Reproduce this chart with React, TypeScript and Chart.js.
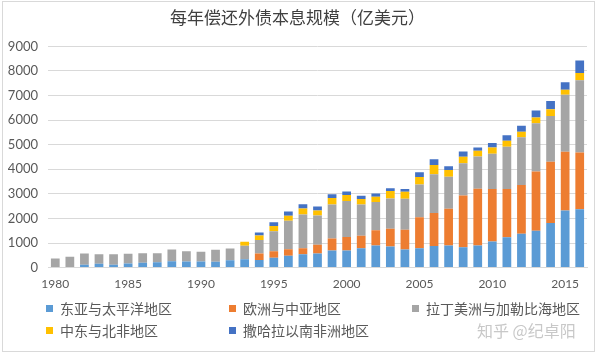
import React, { useEffect, useRef } from "react";
import { Chart, registerables } from "chart.js";

Chart.register(...registerables);

const TITLE = "每年偿还外债本息规模（亿美元）";

const years: string[] = [
  "1980", "1981", "1982", "1983", "1984", "1985", "1986", "1987", "1988", "1989",
  "1990", "1991", "1992", "1993", "1994", "1995", "1996", "1997", "1998", "1999",
  "2000", "2001", "2002", "2003", "2004", "2005", "2006", "2007", "2008", "2009",
  "2010", "2011", "2012", "2013", "2014", "2015", "2016",
];

const seriesNames: string[] = [
  "东亚与太平洋地区",
  "欧洲与中亚地区",
  "拉丁美洲与加勒比海地区",
  "中东与北非地区",
  "撒哈拉以南非洲地区",
];

const seriesColors: string[] = ["#5B9BD5", "#ED7D31", "#A5A5A5", "#FFC000", "#4472C4"];

const eastAsia: number[] = [
  0, 0, 120, 160, 120, 170, 200, 220, 260, 250,
  250, 240, 300, 340, 310, 400, 480, 545, 575, 700,
  700, 790, 900, 860, 740, 790, 875, 900, 830, 900,
  1065, 1230, 1380, 1500, 1815, 2320, 2375,
];

const europeCentralAsia: number[] = [
  0, 0, 0, 0, 0, 0, 0, 0, 0, 0,
  0, 0, 0, 0, 260, 270, 270, 245, 355, 480,
  545, 510, 615, 725, 805, 1255, 1350, 1490, 2105, 2310,
  2130, 1965, 1980, 2405, 2490, 2390, 2310,
];

const latinAmerica: number[] = [
  370, 440, 453, 385, 425, 390, 383, 363, 477, 420,
  390, 485, 480, 550, 550, 805, 1160, 1370, 1190, 1390,
  1460, 1270, 1150, 1230, 1255, 1340, 1570, 1310, 1310, 1310,
  1435, 1720, 1940, 1965, 1860, 2325, 2935,
];

const middleEastNorthAfrica: number[] = [
  0, 0, 0, 0, 0, 0, 0, 0, 0, 0,
  0, 0, 0, 160, 190, 220, 200, 245, 205, 260,
  245, 220, 220, 300, 285, 300, 380, 275, 270, 230,
  260, 245, 230, 235, 275, 205, 300,
];

const subSaharanAfrica: number[] = [
  0, 0, 0, 0, 0, 0, 0, 0, 0, 0,
  0, 0, 0, 0, 120, 150, 170, 175, 165, 150,
  150, 135, 135, 110, 110, 190, 235, 150, 205, 140,
  180, 230, 245, 285, 340, 300, 505,
];

const seriesValues: number[][] = [
  eastAsia,
  europeCentralAsia,
  latinAmerica,
  middleEastNorthAfrica,
  subSaharanAfrica,
];

const yTicks = { min: 0, max: 9000, step: 1000 };

const CJK = '"Noto Sans CJK SC", "Noto Sans", sans-serif';
const NUM = 'Lato, "Noto Sans", sans-serif';

export default function App() {
  const canvasRef = useRef<HTMLCanvasElement | null>(null);

  useEffect(() => {
    if (!canvasRef.current) return;
    const chart = new Chart(canvasRef.current, {
      type: "bar",
      data: {
        labels: years,
        datasets: seriesNames.map((name, i) => ({
          label: name,
          data: seriesValues[i],
          backgroundColor: seriesColors[i],
          borderWidth: 0,
          barPercentage: 0.6,
          categoryPercentage: 1,
        })),
      },
      options: {
        responsive: false,
        animation: false,
        devicePixelRatio: 1,
        layout: { padding: { left: 8, right: 13, top: 0, bottom: 62 } },
        plugins: {
          legend: { display: false },
          tooltip: { enabled: false },
          title: {
            display: true,
            text: TITLE,
            color: "#404040",
            font: { family: CJK, size: 17, weight: "normal" },
            padding: { top: 7, bottom: 19 },
          },
        },
        scales: {
          x: {
            stacked: true,
            grid: { display: false },
            border: { display: true, color: "#D9D9D9" },
            ticks: {
              autoSkip: false,
              maxRotation: 0,
              minRotation: 0,
              padding: 1,
              color: "#595959",
              font: { family: NUM, size: 12 },
              callback: (_v: any, i: number) => (Number(years[i]) % 5 === 0 ? years[i] : ""),
            },
          },
          y: {
            stacked: true,
            min: yTicks.min,
            max: yTicks.max,
            grid: { color: "#D9D9D9", drawTicks: false },
            border: { display: false },
            ticks: {
              stepSize: yTicks.step,
              padding: 10,
              color: "#595959",
              font: { family: NUM, size: 13 },
              callback: (v: any) => String(v),
            },
            afterFit: (s: any) => {
              s.width = 40;
            },
          },
        },
      },
    });
    return () => chart.destroy();
  }, []);

  const legendRows: { idx: number; x: number; y: number }[] = [
    { idx: 0, x: 46, y: 299 },
    { idx: 1, x: 229, y: 299 },
    { idx: 2, x: 412, y: 299 },
    { idx: 3, x: 46, y: 321 },
    { idx: 4, x: 229, y: 321 },
  ];

  return (
    <div
      style={{
        position: "fixed",
        left: 0,
        top: 0,
        width: 600,
        height: 354,
        background: "#fff",
        overflow: "hidden",
      }}
    >
      <canvas ref={canvasRef} width={600} height={354} style={{ position: "absolute", left: 0, top: 0 }} />
      <div
        style={{
          position: "absolute",
          left: 2,
          top: 1,
          width: 593,
          height: 351,
          border: "1px solid #D9D9D9",
          boxSizing: "border-box",
          pointerEvents: "none",
        }}
      />
      {legendRows.map((r) => (
        <div
          key={r.idx}
          style={{
            position: "absolute",
            left: r.x,
            top: r.y,
            height: 18,
            display: "flex",
            alignItems: "center",
            fontFamily: CJK,
            fontSize: 14,
            color: "#595959",
            whiteSpace: "nowrap",
          }}
        >
          <span
            style={{
              display: "inline-block",
              width: 7,
              height: 7,
              background: seriesColors[r.idx],
              marginRight: 7,
            }}
          />
          <span>{seriesNames[r.idx]}</span>
        </div>
      ))}
      <div
        style={{
          position: "absolute",
          left: 477,
          top: 318,
          fontFamily: CJK,
          fontSize: 16,
          color: "#C8C8C8",
          whiteSpace: "nowrap",
        }}
      >
        知乎 @纪卓阳
      </div>
    </div>
  );
}
